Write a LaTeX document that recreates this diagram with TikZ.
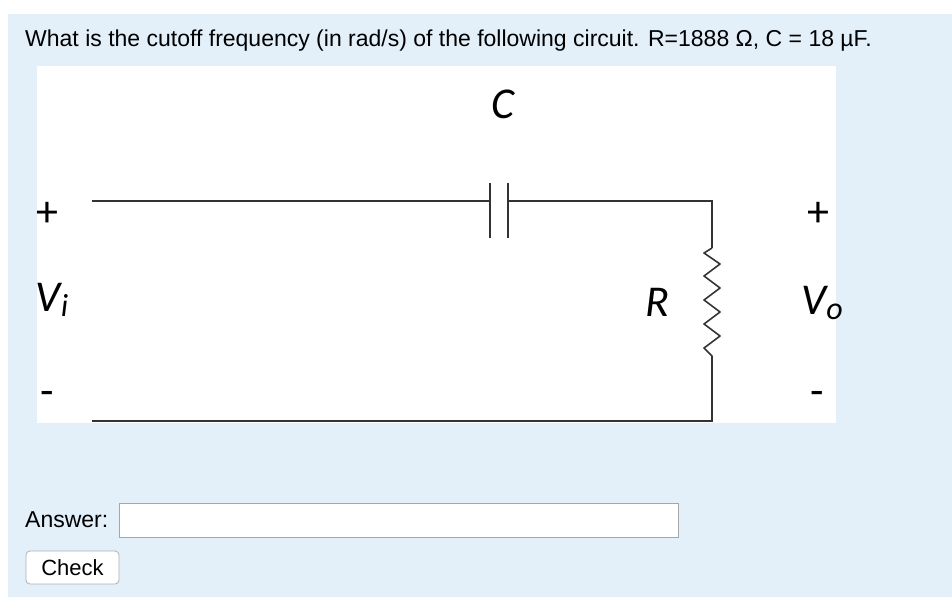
\documentclass[tikz,border=0pt]{standalone}
\usepackage{fontspec}
\setmainfont{Liberation Sans}
\newfontfamily\carlitofam{Carlito}
\definecolor{bgblue}{HTML}{E3EFF9}
\definecolor{wire}{HTML}{333333}
\tikzset{
  wirel/.style={draw=wire,line width=1.6pt},
  lab/.style={font=\carlitofam\itshape\fontsize{44}{44}\selectfont,inner sep=0pt},
  sign/.style={font=\carlitofam\fontsize{44}{44}\selectfont,inner sep=0pt},
  ui/.style={font=\fontsize{23}{25}\selectfont,inner sep=0pt,anchor=west}
}
\begin{document}
\begin{tikzpicture}[x=1pt,y=-1pt]
\useasboundingbox (0,0) rectangle (952,610);
\fill[white] (0,0) rectangle (952,610);
\fill[bgblue] (8,14) rectangle (952,597);
\fill[white] (37,66) rectangle (836,423);
\node[ui] (q) at (25,41) {What is the cutoff frequency (in rad/s) of the following circuit. R=1888 \symbol{"03A9}, C = 18 \symbol{"00B5}F.};
% circuit
\coordinate (tl) at (92,201);
\coordinate (c1) at (490,201);
\coordinate (c2) at (508,201);
\coordinate (tr) at (712,201);
\coordinate (r1) at (712,248);
\coordinate (r2) at (712,362);
\coordinate (br) at (712,421);
\coordinate (bl) at (92,421);
\draw[wirel] (tl) -- (c1);
\draw[wirel] (c1)+(0,-18) -- +(0,37);
\draw[wirel] (c2)+(0,-18) -- +(0,37);
\draw[wirel] (c2) -- (tr) -- (r1);
\draw[wirel,line join=round] (r1) -- (704,253) -- (720,264) -- (704,276) -- (720,288) -- (704,300) -- (720,312) -- (704,324) -- (720,336) -- (704,348) -- (712,356) -- (r2);
\draw[wirel] (r2) -- (br) -- (bl);
\node[lab] (C) at (503,104) {C};
\node[lab] (R) at (657,302) {R};
\node[sign] (p1) at (47,214) {+};
\node[lab] (vi) at (52,300) {V\raisebox{-5pt}{\fontsize{32}{32}\selectfont i}};
\node[sign] (m1) at (47,398) {-};
\node[sign] (p2) at (818,214) {+};
\node[lab] (vo) at (822,303) {V\raisebox{-5pt}{\fontsize{32}{32}\selectfont o}};
\node[sign] (m2) at (817,398) {-};
% answer
\node[ui] (ans) at (25,520) {Answer:};
\node[draw=black!35,fill=white,line width=0.8pt,minimum width=559pt,minimum height=34pt,anchor=west] (box) at (119,520) {};
\node[draw=black!30,fill=white,rounded corners=4pt,line width=0.8pt,minimum width=93pt,minimum height=33pt,font=\fontsize{22}{24}\selectfont] (chk) at (72.5,567.5) {Check};
\end{tikzpicture}
\end{document}
